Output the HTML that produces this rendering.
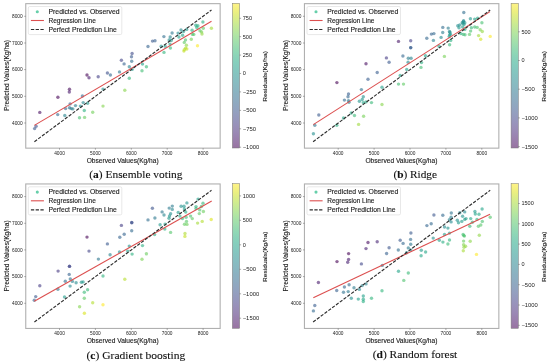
<!DOCTYPE html>
<html><head><meta charset="utf-8"><style>
html,body{margin:0;padding:0;background:#fff;}
svg{display:block;will-change:transform;font-family:"Liberation Sans",sans-serif;}
</style></head><body>
<svg width="550" height="363" viewBox="0 0 550 363">
<rect width="550" height="363" fill="#fff"/>
<defs>
<linearGradient id="ga" x1="0" y1="1" x2="0" y2="0">
<stop offset="0.000" stop-color="#9873a1"/>
<stop offset="0.031" stop-color="#9a7aa8"/>
<stop offset="0.062" stop-color="#9a80ad"/>
<stop offset="0.094" stop-color="#9a86b3"/>
<stop offset="0.125" stop-color="#9a8cb6"/>
<stop offset="0.156" stop-color="#9991ba"/>
<stop offset="0.188" stop-color="#9796bc"/>
<stop offset="0.219" stop-color="#959bbe"/>
<stop offset="0.250" stop-color="#93a0bf"/>
<stop offset="0.281" stop-color="#91a5c0"/>
<stop offset="0.312" stop-color="#8fa9c0"/>
<stop offset="0.344" stop-color="#8daec1"/>
<stop offset="0.375" stop-color="#8bb1c1"/>
<stop offset="0.406" stop-color="#89b6c1"/>
<stop offset="0.438" stop-color="#88bac1"/>
<stop offset="0.469" stop-color="#86bec1"/>
<stop offset="0.500" stop-color="#85c2c0"/>
<stop offset="0.531" stop-color="#84c6bf"/>
<stop offset="0.562" stop-color="#84cbbe"/>
<stop offset="0.594" stop-color="#85cfbc"/>
<stop offset="0.625" stop-color="#89d2b9"/>
<stop offset="0.656" stop-color="#8ed7b6"/>
<stop offset="0.688" stop-color="#95dab2"/>
<stop offset="0.719" stop-color="#9edeae"/>
<stop offset="0.750" stop-color="#a6e1a9"/>
<stop offset="0.781" stop-color="#b0e5a3"/>
<stop offset="0.812" stop-color="#bbe79c"/>
<stop offset="0.844" stop-color="#c6ea95"/>
<stop offset="0.875" stop-color="#d2ec8d"/>
<stop offset="0.906" stop-color="#dded86"/>
<stop offset="0.938" stop-color="#eaef80"/>
<stop offset="0.969" stop-color="#f5f182"/>
<stop offset="1.000" stop-color="#fef287"/>
</linearGradient>
<linearGradient id="gb" x1="0" y1="1" x2="0" y2="0">
<stop offset="0.000" stop-color="#9873a1"/>
<stop offset="0.031" stop-color="#9a7aa8"/>
<stop offset="0.062" stop-color="#9a80ad"/>
<stop offset="0.094" stop-color="#9a86b3"/>
<stop offset="0.125" stop-color="#9a8cb6"/>
<stop offset="0.156" stop-color="#9991ba"/>
<stop offset="0.188" stop-color="#9796bc"/>
<stop offset="0.219" stop-color="#959bbe"/>
<stop offset="0.250" stop-color="#93a0bf"/>
<stop offset="0.281" stop-color="#91a5c0"/>
<stop offset="0.312" stop-color="#8fa9c0"/>
<stop offset="0.344" stop-color="#8daec1"/>
<stop offset="0.375" stop-color="#8bb1c1"/>
<stop offset="0.406" stop-color="#89b6c1"/>
<stop offset="0.438" stop-color="#88bac1"/>
<stop offset="0.469" stop-color="#86bec1"/>
<stop offset="0.500" stop-color="#85c2c0"/>
<stop offset="0.531" stop-color="#84c6bf"/>
<stop offset="0.562" stop-color="#84cbbe"/>
<stop offset="0.594" stop-color="#85cfbc"/>
<stop offset="0.625" stop-color="#89d2b9"/>
<stop offset="0.656" stop-color="#8ed7b6"/>
<stop offset="0.688" stop-color="#95dab2"/>
<stop offset="0.719" stop-color="#9edeae"/>
<stop offset="0.750" stop-color="#a6e1a9"/>
<stop offset="0.781" stop-color="#b0e5a3"/>
<stop offset="0.812" stop-color="#bbe79c"/>
<stop offset="0.844" stop-color="#c6ea95"/>
<stop offset="0.875" stop-color="#d2ec8d"/>
<stop offset="0.906" stop-color="#dded86"/>
<stop offset="0.938" stop-color="#eaef80"/>
<stop offset="0.969" stop-color="#f5f182"/>
<stop offset="1.000" stop-color="#fef287"/>
</linearGradient>
<linearGradient id="gc" x1="0" y1="1" x2="0" y2="0">
<stop offset="0.000" stop-color="#9873a1"/>
<stop offset="0.031" stop-color="#9a7aa8"/>
<stop offset="0.062" stop-color="#9a80ad"/>
<stop offset="0.094" stop-color="#9a86b3"/>
<stop offset="0.125" stop-color="#9a8cb6"/>
<stop offset="0.156" stop-color="#9991ba"/>
<stop offset="0.188" stop-color="#9796bc"/>
<stop offset="0.219" stop-color="#959bbe"/>
<stop offset="0.250" stop-color="#93a0bf"/>
<stop offset="0.281" stop-color="#91a5c0"/>
<stop offset="0.312" stop-color="#8fa9c0"/>
<stop offset="0.344" stop-color="#8daec1"/>
<stop offset="0.375" stop-color="#8bb1c1"/>
<stop offset="0.406" stop-color="#89b6c1"/>
<stop offset="0.438" stop-color="#88bac1"/>
<stop offset="0.469" stop-color="#86bec1"/>
<stop offset="0.500" stop-color="#85c2c0"/>
<stop offset="0.531" stop-color="#84c6bf"/>
<stop offset="0.562" stop-color="#84cbbe"/>
<stop offset="0.594" stop-color="#85cfbc"/>
<stop offset="0.625" stop-color="#89d2b9"/>
<stop offset="0.656" stop-color="#8ed7b6"/>
<stop offset="0.688" stop-color="#95dab2"/>
<stop offset="0.719" stop-color="#9edeae"/>
<stop offset="0.750" stop-color="#a6e1a9"/>
<stop offset="0.781" stop-color="#b0e5a3"/>
<stop offset="0.812" stop-color="#bbe79c"/>
<stop offset="0.844" stop-color="#c6ea95"/>
<stop offset="0.875" stop-color="#d2ec8d"/>
<stop offset="0.906" stop-color="#dded86"/>
<stop offset="0.938" stop-color="#eaef80"/>
<stop offset="0.969" stop-color="#f5f182"/>
<stop offset="1.000" stop-color="#fef287"/>
</linearGradient>
<linearGradient id="gd" x1="0" y1="1" x2="0" y2="0">
<stop offset="0.000" stop-color="#9873a1"/>
<stop offset="0.031" stop-color="#9a7aa8"/>
<stop offset="0.062" stop-color="#9a80ad"/>
<stop offset="0.094" stop-color="#9a86b3"/>
<stop offset="0.125" stop-color="#9a8cb6"/>
<stop offset="0.156" stop-color="#9991ba"/>
<stop offset="0.188" stop-color="#9796bc"/>
<stop offset="0.219" stop-color="#959bbe"/>
<stop offset="0.250" stop-color="#93a0bf"/>
<stop offset="0.281" stop-color="#91a5c0"/>
<stop offset="0.312" stop-color="#8fa9c0"/>
<stop offset="0.344" stop-color="#8daec1"/>
<stop offset="0.375" stop-color="#8bb1c1"/>
<stop offset="0.406" stop-color="#89b6c1"/>
<stop offset="0.438" stop-color="#88bac1"/>
<stop offset="0.469" stop-color="#86bec1"/>
<stop offset="0.500" stop-color="#85c2c0"/>
<stop offset="0.531" stop-color="#84c6bf"/>
<stop offset="0.562" stop-color="#84cbbe"/>
<stop offset="0.594" stop-color="#85cfbc"/>
<stop offset="0.625" stop-color="#89d2b9"/>
<stop offset="0.656" stop-color="#8ed7b6"/>
<stop offset="0.688" stop-color="#95dab2"/>
<stop offset="0.719" stop-color="#9edeae"/>
<stop offset="0.750" stop-color="#a6e1a9"/>
<stop offset="0.781" stop-color="#b0e5a3"/>
<stop offset="0.812" stop-color="#bbe79c"/>
<stop offset="0.844" stop-color="#c6ea95"/>
<stop offset="0.875" stop-color="#d2ec8d"/>
<stop offset="0.906" stop-color="#dded86"/>
<stop offset="0.938" stop-color="#eaef80"/>
<stop offset="0.969" stop-color="#f5f182"/>
<stop offset="1.000" stop-color="#fef287"/>
</linearGradient>
</defs>
<g transform="translate(0,0)">
<circle cx="69.5" cy="89.3" r="1.7" fill="#450659" fill-opacity="0.6"/>
<circle cx="69.3" cy="92.0" r="1.7" fill="#48186a" fill-opacity="0.6"/>
<circle cx="57.9" cy="97.3" r="1.7" fill="#440255" fill-opacity="0.6"/>
<circle cx="39.8" cy="112.4" r="1.7" fill="#470e61" fill-opacity="0.6"/>
<circle cx="57.7" cy="114.6" r="1.7" fill="#31678e" fill-opacity="0.6"/>
<circle cx="64.8" cy="115.5" r="1.7" fill="#25848e" fill-opacity="0.6"/>
<circle cx="70.1" cy="103.9" r="1.7" fill="#35608d" fill-opacity="0.6"/>
<circle cx="65.6" cy="108.6" r="1.7" fill="#31678d" fill-opacity="0.6"/>
<circle cx="69.5" cy="107.8" r="1.7" fill="#2d708e" fill-opacity="0.6"/>
<circle cx="71.2" cy="108.6" r="1.7" fill="#297a8e" fill-opacity="0.6"/>
<circle cx="72.8" cy="108.9" r="1.7" fill="#26818e" fill-opacity="0.6"/>
<circle cx="75.5" cy="105.6" r="1.7" fill="#297b8e" fill-opacity="0.6"/>
<circle cx="34.6" cy="128.6" r="1.7" fill="#39578c" fill-opacity="0.6"/>
<circle cx="36.1" cy="126.2" r="1.7" fill="#3c508b" fill-opacity="0.6"/>
<circle cx="82.4" cy="96.0" r="1.7" fill="#31668d" fill-opacity="0.6"/>
<circle cx="83.2" cy="102.6" r="1.7" fill="#24878e" fill-opacity="0.6"/>
<circle cx="80.4" cy="106.1" r="1.7" fill="#228e8d" fill-opacity="0.6"/>
<circle cx="87.6" cy="103.2" r="1.7" fill="#1f998b" fill-opacity="0.6"/>
<circle cx="84.3" cy="110.5" r="1.7" fill="#29af7f" fill-opacity="0.6"/>
<circle cx="79.5" cy="117.7" r="1.7" fill="#44be70" fill-opacity="0.6"/>
<circle cx="84.6" cy="117.4" r="1.7" fill="#66cc5d" fill-opacity="0.6"/>
<circle cx="92.7" cy="112.2" r="1.7" fill="#6fcf58" fill-opacity="0.6"/>
<circle cx="103.0" cy="106.1" r="1.7" fill="#82d34c" fill-opacity="0.6"/>
<circle cx="103.0" cy="89.1" r="1.7" fill="#228d8d" fill-opacity="0.6"/>
<circle cx="124.8" cy="90.2" r="1.7" fill="#86d44a" fill-opacity="0.6"/>
<circle cx="87.0" cy="75.0" r="1.7" fill="#440154" fill-opacity="0.6"/>
<circle cx="89.0" cy="77.7" r="1.7" fill="#481a6c" fill-opacity="0.6"/>
<circle cx="98.2" cy="76.8" r="1.7" fill="#433e85" fill-opacity="0.6"/>
<circle cx="107.4" cy="73.0" r="1.7" fill="#3c4f8a" fill-opacity="0.6"/>
<circle cx="110.4" cy="75.0" r="1.7" fill="#32658d" fill-opacity="0.6"/>
<circle cx="119.5" cy="71.9" r="1.7" fill="#2b768e" fill-opacity="0.6"/>
<circle cx="121.4" cy="60.3" r="1.7" fill="#414287" fill-opacity="0.6"/>
<circle cx="124.1" cy="63.9" r="1.7" fill="#34618d" fill-opacity="0.6"/>
<circle cx="148.0" cy="46.5" r="1.7" fill="#33628d" fill-opacity="0.6"/>
<circle cx="132.1" cy="53.5" r="1.7" fill="#3e4989" fill-opacity="0.6"/>
<circle cx="131.5" cy="56.8" r="1.7" fill="#38588c" fill-opacity="0.6"/>
<circle cx="131.7" cy="61.2" r="1.7" fill="#2e6e8e" fill-opacity="0.6"/>
<circle cx="129.3" cy="66.7" r="1.7" fill="#27808e" fill-opacity="0.6"/>
<circle cx="132.1" cy="69.4" r="1.7" fill="#20968b" fill-opacity="0.6"/>
<circle cx="142.5" cy="64.1" r="1.7" fill="#20a187" fill-opacity="0.6"/>
<circle cx="146.4" cy="66.7" r="1.7" fill="#39b976" fill-opacity="0.6"/>
<circle cx="142.0" cy="70.8" r="1.7" fill="#40bc73" fill-opacity="0.6"/>
<circle cx="129.3" cy="78.2" r="1.7" fill="#30b47b" fill-opacity="0.6"/>
<circle cx="161.2" cy="46.3" r="1.7" fill="#218f8c" fill-opacity="0.6"/>
<circle cx="165.1" cy="46.3" r="1.7" fill="#1f9c89" fill-opacity="0.6"/>
<circle cx="164.0" cy="52.4" r="1.7" fill="#30b47b" fill-opacity="0.6"/>
<circle cx="170.0" cy="44.1" r="1.7" fill="#20a387" fill-opacity="0.6"/>
<circle cx="170.4" cy="48.0" r="1.7" fill="#32b67a" fill-opacity="0.6"/>
<circle cx="152.5" cy="41.1" r="1.7" fill="#38588c" fill-opacity="0.6"/>
<circle cx="155.0" cy="40.7" r="1.7" fill="#355f8d" fill-opacity="0.6"/>
<circle cx="163.9" cy="36.6" r="1.7" fill="#2f6c8e" fill-opacity="0.6"/>
<circle cx="172.1" cy="33.0" r="1.7" fill="#2a778e" fill-opacity="0.6"/>
<circle cx="170.2" cy="37.0" r="1.7" fill="#25838e" fill-opacity="0.6"/>
<circle cx="169.2" cy="40.0" r="1.7" fill="#228e8d" fill-opacity="0.6"/>
<circle cx="171.3" cy="40.5" r="1.7" fill="#1f978b" fill-opacity="0.6"/>
<circle cx="178.1" cy="33.1" r="1.7" fill="#228c8d" fill-opacity="0.6"/>
<circle cx="178.9" cy="37.0" r="1.7" fill="#1fa188" fill-opacity="0.6"/>
<circle cx="181.0" cy="30.0" r="1.7" fill="#24888e" fill-opacity="0.6"/>
<circle cx="183.5" cy="31.6" r="1.7" fill="#1f988b" fill-opacity="0.6"/>
<circle cx="182.6" cy="35.3" r="1.7" fill="#21a586" fill-opacity="0.6"/>
<circle cx="185.5" cy="39.9" r="1.7" fill="#4dc26c" fill-opacity="0.6"/>
<circle cx="184.3" cy="42.4" r="1.7" fill="#5cc863" fill-opacity="0.6"/>
<circle cx="186.4" cy="45.2" r="1.7" fill="#8fd644" fill-opacity="0.6"/>
<circle cx="185.5" cy="48.1" r="1.7" fill="#abdc31" fill-opacity="0.6"/>
<circle cx="184.3" cy="49.8" r="1.7" fill="#b6dd2b" fill-opacity="0.6"/>
<circle cx="186.8" cy="49.0" r="1.7" fill="#c3df22" fill-opacity="0.6"/>
<circle cx="202.9" cy="22.0" r="1.7" fill="#27ad81" fill-opacity="0.6"/>
<circle cx="195.8" cy="25.3" r="1.7" fill="#21a586" fill-opacity="0.6"/>
<circle cx="197.9" cy="25.7" r="1.7" fill="#27ad81" fill-opacity="0.6"/>
<circle cx="196.7" cy="27.4" r="1.7" fill="#2cb17e" fill-opacity="0.6"/>
<circle cx="203.3" cy="28.3" r="1.7" fill="#5cc863" fill-opacity="0.6"/>
<circle cx="211.4" cy="28.3" r="1.7" fill="#a4da36" fill-opacity="0.6"/>
<circle cx="200.0" cy="30.7" r="1.7" fill="#5cc863" fill-opacity="0.6"/>
<circle cx="201.6" cy="31.9" r="1.7" fill="#77d153" fill-opacity="0.6"/>
<circle cx="202.0" cy="34.0" r="1.7" fill="#94d741" fill-opacity="0.6"/>
<circle cx="192.1" cy="30.2" r="1.7" fill="#28ae80" fill-opacity="0.6"/>
<circle cx="192.5" cy="34.4" r="1.7" fill="#4ac16d" fill-opacity="0.6"/>
<circle cx="193.8" cy="34.4" r="1.7" fill="#53c568" fill-opacity="0.6"/>
<circle cx="186.7" cy="29.4" r="1.7" fill="#1f988b" fill-opacity="0.6"/>
<circle cx="191.3" cy="39.3" r="1.7" fill="#74d055" fill-opacity="0.6"/>
<circle cx="183.9" cy="51.1" r="1.7" fill="#c3df23" fill-opacity="0.6"/>
<circle cx="197.5" cy="45.7" r="1.7" fill="#fbe724" fill-opacity="0.6"/>
<line x1="34.3" y1="125.4" x2="211.5" y2="21.2" stroke="#dc4f4f" stroke-width="1.1"/>
<line x1="34.4" y1="141.7" x2="211.5" y2="10.0" stroke="#2e2e2e" stroke-width="1.15" stroke-dasharray="3.3 1.45"/>
<rect x="25.75" y="3.65" width="194.4" height="144.5" fill="none" stroke="#b0b0b0" stroke-width="1.1"/>
<line x1="59.5" y1="148.2" x2="59.5" y2="149.7" stroke="#555" stroke-width="0.5"/>
<text x="59.5" y="154.7" font-size="4.7" text-anchor="middle" fill="#1a1a1a" textLength="10.7" lengthAdjust="spacingAndGlyphs">4000</text>
<line x1="95.4" y1="148.2" x2="95.4" y2="149.7" stroke="#555" stroke-width="0.5"/>
<text x="95.4" y="154.7" font-size="4.7" text-anchor="middle" fill="#1a1a1a" textLength="10.7" lengthAdjust="spacingAndGlyphs">5000</text>
<line x1="131.3" y1="148.2" x2="131.3" y2="149.7" stroke="#555" stroke-width="0.5"/>
<text x="131.3" y="154.7" font-size="4.7" text-anchor="middle" fill="#1a1a1a" textLength="10.7" lengthAdjust="spacingAndGlyphs">6000</text>
<line x1="167.2" y1="148.2" x2="167.2" y2="149.7" stroke="#555" stroke-width="0.5"/>
<text x="167.2" y="154.7" font-size="4.7" text-anchor="middle" fill="#1a1a1a" textLength="10.7" lengthAdjust="spacingAndGlyphs">7000</text>
<line x1="203.1" y1="148.2" x2="203.1" y2="149.7" stroke="#555" stroke-width="0.5"/>
<text x="203.1" y="154.7" font-size="4.7" text-anchor="middle" fill="#1a1a1a" textLength="10.7" lengthAdjust="spacingAndGlyphs">8000</text>
<line x1="24.25" y1="123.0" x2="25.75" y2="123.0" stroke="#555" stroke-width="0.5"/>
<text x="22.7" y="124.7" font-size="4.7" text-anchor="end" fill="#1a1a1a" textLength="10.7" lengthAdjust="spacingAndGlyphs">4000</text>
<line x1="24.25" y1="96.3" x2="25.75" y2="96.3" stroke="#555" stroke-width="0.5"/>
<text x="22.7" y="98.0" font-size="4.7" text-anchor="end" fill="#1a1a1a" textLength="10.7" lengthAdjust="spacingAndGlyphs">5000</text>
<line x1="24.25" y1="69.6" x2="25.75" y2="69.6" stroke="#555" stroke-width="0.5"/>
<text x="22.7" y="71.3" font-size="4.7" text-anchor="end" fill="#1a1a1a" textLength="10.7" lengthAdjust="spacingAndGlyphs">6000</text>
<line x1="24.25" y1="43.0" x2="25.75" y2="43.0" stroke="#555" stroke-width="0.5"/>
<text x="22.7" y="44.7" font-size="4.7" text-anchor="end" fill="#1a1a1a" textLength="10.7" lengthAdjust="spacingAndGlyphs">7000</text>
<line x1="24.25" y1="16.3" x2="25.75" y2="16.3" stroke="#555" stroke-width="0.5"/>
<text x="22.7" y="18.0" font-size="4.7" text-anchor="end" fill="#1a1a1a" textLength="10.7" lengthAdjust="spacingAndGlyphs">8000</text>
<text x="122.7" y="162.9" font-size="6.6" text-anchor="middle" fill="#1a1a1a" stroke="#1a1a1a" stroke-width="0.12" textLength="72" lengthAdjust="spacingAndGlyphs">Observed Values(Kg/ha)</text>
<text transform="translate(8.9,75.6) rotate(-90)" font-size="6.6" text-anchor="middle" fill="#1a1a1a" stroke="#1a1a1a" stroke-width="0.12" textLength="71" lengthAdjust="spacingAndGlyphs">Predicted Values(Kg/ha)</text>
<rect x="28.3" y="6.5" width="93.5" height="28.1" rx="1.5" fill="#fff" fill-opacity="0.8" stroke="#d8d8d8" stroke-width="0.6"/>
<circle cx="37.3" cy="11.8" r="1.55" fill="#66cfaa"/>
<line x1="30.9" y1="20.5" x2="43.9" y2="20.5" stroke="#dc4f4f" stroke-width="1.1"/>
<line x1="30.9" y1="29.5" x2="43.9" y2="29.5" stroke="#2e2e2e" stroke-width="1.15" stroke-dasharray="3.3 1.45"/>
<text x="48.5" y="13.7" font-size="6.5" fill="#1a1a1a" stroke="#1a1a1a" stroke-width="0.12" textLength="71" lengthAdjust="spacingAndGlyphs">Predicted vs. Observed</text>
<text x="48.5" y="22.7" font-size="6.5" fill="#1a1a1a" stroke="#1a1a1a" stroke-width="0.12" textLength="47.3" lengthAdjust="spacingAndGlyphs">Regression Line</text>
<text x="48.5" y="31.7" font-size="6.5" fill="#1a1a1a" stroke="#1a1a1a" stroke-width="0.12" textLength="68.3" lengthAdjust="spacingAndGlyphs">Perfect Prediction Line</text>
<rect x="232.4" y="3.3" width="7.2" height="144.7" fill="url(#ga)" stroke="#777" stroke-width="0.5"/>
<line x1="239.6" y1="18.3" x2="241.1" y2="18.3" stroke="#555" stroke-width="0.5"/>
<text x="242.7" y="20.2" font-size="5.3" fill="#1a1a1a" textLength="9.3" lengthAdjust="spacingAndGlyphs">750</text>
<line x1="239.6" y1="36.7" x2="241.1" y2="36.7" stroke="#555" stroke-width="0.5"/>
<text x="242.7" y="38.6" font-size="5.3" fill="#1a1a1a" textLength="9.3" lengthAdjust="spacingAndGlyphs">500</text>
<line x1="239.6" y1="55.1" x2="241.1" y2="55.1" stroke="#555" stroke-width="0.5"/>
<text x="242.7" y="57.0" font-size="5.3" fill="#1a1a1a" textLength="9.3" lengthAdjust="spacingAndGlyphs">250</text>
<line x1="239.6" y1="73.5" x2="241.1" y2="73.5" stroke="#555" stroke-width="0.5"/>
<text x="242.7" y="75.4" font-size="5.3" fill="#1a1a1a" textLength="3.1" lengthAdjust="spacingAndGlyphs">0</text>
<line x1="239.6" y1="91.9" x2="241.1" y2="91.9" stroke="#555" stroke-width="0.5"/>
<text x="242.7" y="93.8" font-size="5.3" fill="#1a1a1a" textLength="13.4" lengthAdjust="spacingAndGlyphs">−250</text>
<line x1="239.6" y1="110.4" x2="241.1" y2="110.4" stroke="#555" stroke-width="0.5"/>
<text x="242.7" y="112.3" font-size="5.3" fill="#1a1a1a" textLength="13.4" lengthAdjust="spacingAndGlyphs">−500</text>
<line x1="239.6" y1="128.8" x2="241.1" y2="128.8" stroke="#555" stroke-width="0.5"/>
<text x="242.7" y="130.7" font-size="5.3" fill="#1a1a1a" textLength="13.4" lengthAdjust="spacingAndGlyphs">−750</text>
<line x1="239.6" y1="147.2" x2="241.1" y2="147.2" stroke="#555" stroke-width="0.5"/>
<text x="242.7" y="149.1" font-size="5.3" fill="#1a1a1a" textLength="16.5" lengthAdjust="spacingAndGlyphs">−1000</text>
<text transform="translate(267.3,76.4) rotate(-90)" font-size="6.1" text-anchor="middle" fill="#1a1a1a" stroke="#1a1a1a" stroke-width="0.12" textLength="50.5" lengthAdjust="spacingAndGlyphs">Residuals(Kg/ha)</text>
</g><g transform="translate(278.7,0)">
<circle cx="58.2" cy="82.6" r="1.7" fill="#440154" fill-opacity="0.6"/>
<circle cx="40.1" cy="115.0" r="1.7" fill="#38588c" fill-opacity="0.6"/>
<circle cx="69.8" cy="94.0" r="1.7" fill="#365d8d" fill-opacity="0.6"/>
<circle cx="69.3" cy="96.8" r="1.7" fill="#32668d" fill-opacity="0.6"/>
<circle cx="65.7" cy="100.1" r="1.7" fill="#30688e" fill-opacity="0.6"/>
<circle cx="69.8" cy="100.6" r="1.7" fill="#2b758e" fill-opacity="0.6"/>
<circle cx="70.3" cy="102.3" r="1.7" fill="#287d8e" fill-opacity="0.6"/>
<circle cx="64.8" cy="118.0" r="1.7" fill="#22a685" fill-opacity="0.6"/>
<circle cx="72.6" cy="113.0" r="1.7" fill="#23a984" fill-opacity="0.6"/>
<circle cx="75.8" cy="115.5" r="1.7" fill="#39b976" fill-opacity="0.6"/>
<circle cx="36.1" cy="125.3" r="1.7" fill="#2c738e" fill-opacity="0.6"/>
<circle cx="34.7" cy="133.7" r="1.7" fill="#228e8d" fill-opacity="0.6"/>
<circle cx="58.1" cy="125.3" r="1.7" fill="#28ae80" fill-opacity="0.6"/>
<circle cx="82.7" cy="89.6" r="1.7" fill="#2d708e" fill-opacity="0.6"/>
<circle cx="84.6" cy="96.8" r="1.7" fill="#218f8c" fill-opacity="0.6"/>
<circle cx="80.7" cy="101.2" r="1.7" fill="#20948c" fill-opacity="0.6"/>
<circle cx="83.5" cy="99.5" r="1.7" fill="#20968b" fill-opacity="0.6"/>
<circle cx="84.6" cy="102.6" r="1.7" fill="#21a486" fill-opacity="0.6"/>
<circle cx="87.3" cy="101.9" r="1.7" fill="#23a884" fill-opacity="0.6"/>
<circle cx="92.8" cy="102.6" r="1.7" fill="#37b877" fill-opacity="0.6"/>
<circle cx="103.3" cy="104.5" r="1.7" fill="#85d44b" fill-opacity="0.6"/>
<circle cx="103.3" cy="87.2" r="1.7" fill="#1f9e89" fill-opacity="0.6"/>
<circle cx="119.8" cy="84.1" r="1.7" fill="#41bd72" fill-opacity="0.6"/>
<circle cx="124.8" cy="84.1" r="1.7" fill="#5dc963" fill-opacity="0.6"/>
<circle cx="84.9" cy="116.3" r="1.7" fill="#73d055" fill-opacity="0.6"/>
<circle cx="79.9" cy="124.4" r="1.7" fill="#9dd93b" fill-opacity="0.6"/>
<circle cx="87.3" cy="63.7" r="1.7" fill="#470d60" fill-opacity="0.6"/>
<circle cx="107.7" cy="57.9" r="1.7" fill="#443b83" fill-opacity="0.6"/>
<circle cx="110.4" cy="62.3" r="1.7" fill="#39568c" fill-opacity="0.6"/>
<circle cx="98.5" cy="72.5" r="1.7" fill="#375c8d" fill-opacity="0.6"/>
<circle cx="89.3" cy="79.3" r="1.7" fill="#375c8d" fill-opacity="0.6"/>
<circle cx="124.2" cy="56.0" r="1.7" fill="#32668d" fill-opacity="0.6"/>
<circle cx="121.5" cy="75.5" r="1.7" fill="#21a586" fill-opacity="0.6"/>
<circle cx="132.0" cy="47.6" r="1.7" fill="#375c8d" fill-opacity="0.6"/>
<circle cx="129.6" cy="58.2" r="1.7" fill="#287c8e" fill-opacity="0.6"/>
<circle cx="132.4" cy="58.2" r="1.7" fill="#25848e" fill-opacity="0.6"/>
<circle cx="129.4" cy="62.3" r="1.7" fill="#238a8e" fill-opacity="0.6"/>
<circle cx="128.0" cy="69.4" r="1.7" fill="#1fa088" fill-opacity="0.6"/>
<circle cx="142.8" cy="62.6" r="1.7" fill="#29ae80" fill-opacity="0.6"/>
<circle cx="142.3" cy="67.4" r="1.7" fill="#42bd72" fill-opacity="0.6"/>
<circle cx="146.7" cy="55.7" r="1.7" fill="#1fa188" fill-opacity="0.6"/>
<circle cx="160.4" cy="46.3" r="1.7" fill="#21a486" fill-opacity="0.6"/>
<circle cx="165.7" cy="56.4" r="1.7" fill="#74d054" fill-opacity="0.6"/>
<circle cx="170.9" cy="44.7" r="1.7" fill="#38b977" fill-opacity="0.6"/>
<circle cx="132.0" cy="40.7" r="1.7" fill="#433e85" fill-opacity="0.6"/>
<circle cx="148.1" cy="38.2" r="1.7" fill="#32668d" fill-opacity="0.6"/>
<circle cx="152.7" cy="34.1" r="1.7" fill="#33638d" fill-opacity="0.6"/>
<circle cx="155.2" cy="33.6" r="1.7" fill="#30688e" fill-opacity="0.6"/>
<circle cx="154.7" cy="40.4" r="1.7" fill="#27808e" fill-opacity="0.6"/>
<circle cx="164.1" cy="27.4" r="1.7" fill="#306a8e" fill-opacity="0.6"/>
<circle cx="164.0" cy="32.5" r="1.7" fill="#287c8e" fill-opacity="0.6"/>
<circle cx="162.4" cy="37.4" r="1.7" fill="#23898e" fill-opacity="0.6"/>
<circle cx="169.5" cy="28.1" r="1.7" fill="#297b8e" fill-opacity="0.6"/>
<circle cx="171.2" cy="32.2" r="1.7" fill="#228e8d" fill-opacity="0.6"/>
<circle cx="170.9" cy="35.0" r="1.7" fill="#1f978b" fill-opacity="0.6"/>
<circle cx="172.0" cy="40.4" r="1.7" fill="#27ad81" fill-opacity="0.6"/>
<circle cx="185.1" cy="12.5" r="1.7" fill="#2e6c8e" fill-opacity="0.6"/>
<circle cx="184.9" cy="20.8" r="1.7" fill="#23898e" fill-opacity="0.6"/>
<circle cx="183.6" cy="22.4" r="1.7" fill="#228c8d" fill-opacity="0.6"/>
<circle cx="186.1" cy="22.8" r="1.7" fill="#20948c" fill-opacity="0.6"/>
<circle cx="185.3" cy="24.5" r="1.7" fill="#1f988b" fill-opacity="0.6"/>
<circle cx="184.0" cy="27.0" r="1.7" fill="#1f9e89" fill-opacity="0.6"/>
<circle cx="179.1" cy="25.7" r="1.7" fill="#228c8d" fill-opacity="0.6"/>
<circle cx="181.1" cy="24.9" r="1.7" fill="#228e8d" fill-opacity="0.6"/>
<circle cx="180.3" cy="27.8" r="1.7" fill="#1f968b" fill-opacity="0.6"/>
<circle cx="191.7" cy="18.7" r="1.7" fill="#20948c" fill-opacity="0.6"/>
<circle cx="196.0" cy="19.1" r="1.7" fill="#20a187" fill-opacity="0.6"/>
<circle cx="198.9" cy="18.3" r="1.7" fill="#21a686" fill-opacity="0.6"/>
<circle cx="186.1" cy="29.4" r="1.7" fill="#25ab82" fill-opacity="0.6"/>
<circle cx="192.7" cy="27.8" r="1.7" fill="#34b779" fill-opacity="0.6"/>
<circle cx="196.0" cy="27.0" r="1.7" fill="#3ebc73" fill-opacity="0.6"/>
<circle cx="198.5" cy="27.4" r="1.7" fill="#4ec36b" fill-opacity="0.6"/>
<circle cx="191.9" cy="31.1" r="1.7" fill="#46bf70" fill-opacity="0.6"/>
<circle cx="203.2" cy="22.8" r="1.7" fill="#46bf6f" fill-opacity="0.6"/>
<circle cx="201.5" cy="29.8" r="1.7" fill="#74d054" fill-opacity="0.6"/>
<circle cx="203.6" cy="31.5" r="1.7" fill="#93d741" fill-opacity="0.6"/>
<circle cx="190.8" cy="34.4" r="1.7" fill="#58c765" fill-opacity="0.6"/>
<circle cx="184.6" cy="34.4" r="1.7" fill="#38b977" fill-opacity="0.6"/>
<circle cx="186.3" cy="34.8" r="1.7" fill="#42be71" fill-opacity="0.6"/>
<circle cx="182.1" cy="33.6" r="1.7" fill="#2aaf7f" fill-opacity="0.6"/>
<circle cx="199.9" cy="35.6" r="1.7" fill="#a1da38" fill-opacity="0.6"/>
<circle cx="211.5" cy="36.4" r="1.7" fill="#fbe724" fill-opacity="0.6"/>
<circle cx="202.0" cy="39.3" r="1.7" fill="#d6e21a" fill-opacity="0.6"/>
<circle cx="119.8" cy="41.4" r="1.7" fill="#481668" fill-opacity="0.6"/>
<circle cx="170.8" cy="31.5" r="1.7" fill="#238a8e" fill-opacity="0.6"/>
<circle cx="171.8" cy="34.2" r="1.7" fill="#1f978b" fill-opacity="0.6"/>
<circle cx="170.5" cy="36.6" r="1.7" fill="#1f9c8a" fill-opacity="0.6"/>
<circle cx="184.8" cy="21.5" r="1.7" fill="#228c8d" fill-opacity="0.6"/>
<circle cx="184.1" cy="23.4" r="1.7" fill="#21918c" fill-opacity="0.6"/>
<circle cx="132.0" cy="47.8" r="1.7" fill="#365d8d" fill-opacity="0.6"/>
<line x1="34.6" y1="124.6" x2="211.3" y2="11.6" stroke="#dc4f4f" stroke-width="1.1"/>
<line x1="34.4" y1="141.7" x2="211.5" y2="10.0" stroke="#2e2e2e" stroke-width="1.15" stroke-dasharray="3.3 1.45"/>
<rect x="25.75" y="3.65" width="194.4" height="144.5" fill="none" stroke="#b0b0b0" stroke-width="1.1"/>
<line x1="59.5" y1="148.2" x2="59.5" y2="149.7" stroke="#555" stroke-width="0.5"/>
<text x="59.5" y="154.7" font-size="4.7" text-anchor="middle" fill="#1a1a1a" textLength="10.7" lengthAdjust="spacingAndGlyphs">4000</text>
<line x1="95.4" y1="148.2" x2="95.4" y2="149.7" stroke="#555" stroke-width="0.5"/>
<text x="95.4" y="154.7" font-size="4.7" text-anchor="middle" fill="#1a1a1a" textLength="10.7" lengthAdjust="spacingAndGlyphs">5000</text>
<line x1="131.3" y1="148.2" x2="131.3" y2="149.7" stroke="#555" stroke-width="0.5"/>
<text x="131.3" y="154.7" font-size="4.7" text-anchor="middle" fill="#1a1a1a" textLength="10.7" lengthAdjust="spacingAndGlyphs">6000</text>
<line x1="167.2" y1="148.2" x2="167.2" y2="149.7" stroke="#555" stroke-width="0.5"/>
<text x="167.2" y="154.7" font-size="4.7" text-anchor="middle" fill="#1a1a1a" textLength="10.7" lengthAdjust="spacingAndGlyphs">7000</text>
<line x1="203.1" y1="148.2" x2="203.1" y2="149.7" stroke="#555" stroke-width="0.5"/>
<text x="203.1" y="154.7" font-size="4.7" text-anchor="middle" fill="#1a1a1a" textLength="10.7" lengthAdjust="spacingAndGlyphs">8000</text>
<line x1="24.25" y1="123.0" x2="25.75" y2="123.0" stroke="#555" stroke-width="0.5"/>
<text x="22.7" y="124.7" font-size="4.7" text-anchor="end" fill="#1a1a1a" textLength="10.7" lengthAdjust="spacingAndGlyphs">4000</text>
<line x1="24.25" y1="96.3" x2="25.75" y2="96.3" stroke="#555" stroke-width="0.5"/>
<text x="22.7" y="98.0" font-size="4.7" text-anchor="end" fill="#1a1a1a" textLength="10.7" lengthAdjust="spacingAndGlyphs">5000</text>
<line x1="24.25" y1="69.6" x2="25.75" y2="69.6" stroke="#555" stroke-width="0.5"/>
<text x="22.7" y="71.3" font-size="4.7" text-anchor="end" fill="#1a1a1a" textLength="10.7" lengthAdjust="spacingAndGlyphs">6000</text>
<line x1="24.25" y1="43.0" x2="25.75" y2="43.0" stroke="#555" stroke-width="0.5"/>
<text x="22.7" y="44.7" font-size="4.7" text-anchor="end" fill="#1a1a1a" textLength="10.7" lengthAdjust="spacingAndGlyphs">7000</text>
<line x1="24.25" y1="16.3" x2="25.75" y2="16.3" stroke="#555" stroke-width="0.5"/>
<text x="22.7" y="18.0" font-size="4.7" text-anchor="end" fill="#1a1a1a" textLength="10.7" lengthAdjust="spacingAndGlyphs">8000</text>
<text x="122.7" y="162.9" font-size="6.6" text-anchor="middle" fill="#1a1a1a" stroke="#1a1a1a" stroke-width="0.12" textLength="72" lengthAdjust="spacingAndGlyphs">Observed Values(Kg/ha)</text>
<text transform="translate(8.9,75.6) rotate(-90)" font-size="6.6" text-anchor="middle" fill="#1a1a1a" stroke="#1a1a1a" stroke-width="0.12" textLength="71" lengthAdjust="spacingAndGlyphs">Predicted Values(Kg/ha)</text>
<rect x="28.3" y="6.5" width="93.5" height="28.1" rx="1.5" fill="#fff" fill-opacity="0.8" stroke="#d8d8d8" stroke-width="0.6"/>
<circle cx="37.3" cy="11.8" r="1.55" fill="#66cfaa"/>
<line x1="30.9" y1="20.5" x2="43.9" y2="20.5" stroke="#dc4f4f" stroke-width="1.1"/>
<line x1="30.9" y1="29.5" x2="43.9" y2="29.5" stroke="#2e2e2e" stroke-width="1.15" stroke-dasharray="3.3 1.45"/>
<text x="48.5" y="13.7" font-size="6.5" fill="#1a1a1a" stroke="#1a1a1a" stroke-width="0.12" textLength="71" lengthAdjust="spacingAndGlyphs">Predicted vs. Observed</text>
<text x="48.5" y="22.7" font-size="6.5" fill="#1a1a1a" stroke="#1a1a1a" stroke-width="0.12" textLength="47.3" lengthAdjust="spacingAndGlyphs">Regression Line</text>
<text x="48.5" y="31.7" font-size="6.5" fill="#1a1a1a" stroke="#1a1a1a" stroke-width="0.12" textLength="68.3" lengthAdjust="spacingAndGlyphs">Perfect Prediction Line</text>
<rect x="232.4" y="3.3" width="7.2" height="144.7" fill="url(#gb)" stroke="#777" stroke-width="0.5"/>
<line x1="239.6" y1="31.8" x2="241.1" y2="31.8" stroke="#555" stroke-width="0.5"/>
<text x="242.7" y="33.7" font-size="5.3" fill="#1a1a1a" textLength="9.3" lengthAdjust="spacingAndGlyphs">500</text>
<line x1="239.6" y1="60.5" x2="241.1" y2="60.5" stroke="#555" stroke-width="0.5"/>
<text x="242.7" y="62.4" font-size="5.3" fill="#1a1a1a" textLength="3.1" lengthAdjust="spacingAndGlyphs">0</text>
<line x1="239.6" y1="89.2" x2="241.1" y2="89.2" stroke="#555" stroke-width="0.5"/>
<text x="242.7" y="91.1" font-size="5.3" fill="#1a1a1a" textLength="13.4" lengthAdjust="spacingAndGlyphs">−500</text>
<line x1="239.6" y1="117.9" x2="241.1" y2="117.9" stroke="#555" stroke-width="0.5"/>
<text x="242.7" y="119.8" font-size="5.3" fill="#1a1a1a" textLength="16.5" lengthAdjust="spacingAndGlyphs">−1000</text>
<line x1="239.6" y1="146.6" x2="241.1" y2="146.6" stroke="#555" stroke-width="0.5"/>
<text x="242.7" y="148.5" font-size="5.3" fill="#1a1a1a" textLength="16.5" lengthAdjust="spacingAndGlyphs">−1500</text>
<text transform="translate(267.3,76.4) rotate(-90)" font-size="6.1" text-anchor="middle" fill="#1a1a1a" stroke="#1a1a1a" stroke-width="0.12" textLength="50.5" lengthAdjust="spacingAndGlyphs">Residuals(Kg/ha)</text>
</g><g transform="translate(0,180.3)">
<circle cx="69.5" cy="85.9" r="1.7" fill="#404487" fill-opacity="0.6"/>
<circle cx="69.5" cy="86.1" r="1.7" fill="#404588" fill-opacity="0.6"/>
<circle cx="58.1" cy="90.8" r="1.7" fill="#453781" fill-opacity="0.6"/>
<circle cx="69.2" cy="94.1" r="1.7" fill="#34608d" fill-opacity="0.6"/>
<circle cx="70.3" cy="98.7" r="1.7" fill="#2c718e" fill-opacity="0.6"/>
<circle cx="65.3" cy="101.0" r="1.7" fill="#2e6d8e" fill-opacity="0.6"/>
<circle cx="72.4" cy="101.1" r="1.7" fill="#287e8e" fill-opacity="0.6"/>
<circle cx="76.1" cy="102.4" r="1.7" fill="#238a8e" fill-opacity="0.6"/>
<circle cx="81.4" cy="102.0" r="1.7" fill="#20958b" fill-opacity="0.6"/>
<circle cx="83.1" cy="101.6" r="1.7" fill="#1f978b" fill-opacity="0.6"/>
<circle cx="70.1" cy="105.8" r="1.7" fill="#24878e" fill-opacity="0.6"/>
<circle cx="39.8" cy="105.5" r="1.7" fill="#443b83" fill-opacity="0.6"/>
<circle cx="57.9" cy="108.9" r="1.7" fill="#2b748e" fill-opacity="0.6"/>
<circle cx="35.7" cy="116.3" r="1.7" fill="#39578c" fill-opacity="0.6"/>
<circle cx="34.3" cy="119.9" r="1.7" fill="#35608d" fill-opacity="0.6"/>
<circle cx="64.5" cy="116.6" r="1.7" fill="#1f9b8a" fill-opacity="0.6"/>
<circle cx="103.0" cy="95.7" r="1.7" fill="#2db27d" fill-opacity="0.6"/>
<circle cx="87.6" cy="109.4" r="1.7" fill="#37b877" fill-opacity="0.6"/>
<circle cx="84.3" cy="111.9" r="1.7" fill="#38b977" fill-opacity="0.6"/>
<circle cx="84.3" cy="117.9" r="1.7" fill="#5cc863" fill-opacity="0.6"/>
<circle cx="124.8" cy="99.0" r="1.7" fill="#b6dd2b" fill-opacity="0.6"/>
<circle cx="92.7" cy="122.4" r="1.7" fill="#b2dd2d" fill-opacity="0.6"/>
<circle cx="103.0" cy="124.5" r="1.7" fill="#fde725" fill-opacity="0.6"/>
<circle cx="79.6" cy="126.4" r="1.7" fill="#82d44c" fill-opacity="0.6"/>
<circle cx="84.4" cy="133.0" r="1.7" fill="#d8e219" fill-opacity="0.6"/>
<circle cx="121.4" cy="45.1" r="1.7" fill="#433c84" fill-opacity="0.6"/>
<circle cx="87.0" cy="56.8" r="1.7" fill="#440154" fill-opacity="0.6"/>
<circle cx="124.2" cy="53.9" r="1.7" fill="#33628d" fill-opacity="0.6"/>
<circle cx="119.8" cy="57.0" r="1.7" fill="#34628d" fill-opacity="0.6"/>
<circle cx="107.4" cy="63.6" r="1.7" fill="#38598d" fill-opacity="0.6"/>
<circle cx="89.0" cy="70.8" r="1.7" fill="#414287" fill-opacity="0.6"/>
<circle cx="110.1" cy="74.4" r="1.7" fill="#26828e" fill-opacity="0.6"/>
<circle cx="119.5" cy="71.6" r="1.7" fill="#228f8d" fill-opacity="0.6"/>
<circle cx="98.4" cy="78.8" r="1.7" fill="#2b748e" fill-opacity="0.6"/>
<circle cx="131.7" cy="50.4" r="1.7" fill="#30698e" fill-opacity="0.6"/>
<circle cx="129.3" cy="65.8" r="1.7" fill="#20938c" fill-opacity="0.6"/>
<circle cx="127.7" cy="70.8" r="1.7" fill="#1f9f88" fill-opacity="0.6"/>
<circle cx="132.1" cy="73.8" r="1.7" fill="#2cb17e" fill-opacity="0.6"/>
<circle cx="142.5" cy="65.3" r="1.7" fill="#29af80" fill-opacity="0.6"/>
<circle cx="146.4" cy="73.5" r="1.7" fill="#68cc5c" fill-opacity="0.6"/>
<circle cx="142.0" cy="79.0" r="1.7" fill="#7ad151" fill-opacity="0.6"/>
<circle cx="154.6" cy="54.3" r="1.7" fill="#24a984" fill-opacity="0.6"/>
<circle cx="160.1" cy="44.4" r="1.7" fill="#1f978b" fill-opacity="0.6"/>
<circle cx="165.1" cy="43.8" r="1.7" fill="#20a187" fill-opacity="0.6"/>
<circle cx="164.8" cy="48.8" r="1.7" fill="#29af7f" fill-opacity="0.6"/>
<circle cx="170.6" cy="52.1" r="1.7" fill="#51c469" fill-opacity="0.6"/>
<circle cx="131.7" cy="42.2" r="1.7" fill="#3d4d8a" fill-opacity="0.6"/>
<circle cx="131.8" cy="42.4" r="1.7" fill="#3c4e8a" fill-opacity="0.6"/>
<circle cx="152.4" cy="28.0" r="1.7" fill="#3b518b" fill-opacity="0.6"/>
<circle cx="148.0" cy="39.6" r="1.7" fill="#2e6d8e" fill-opacity="0.6"/>
<circle cx="154.9" cy="37.7" r="1.7" fill="#2a778e" fill-opacity="0.6"/>
<circle cx="162.1" cy="31.6" r="1.7" fill="#2b758e" fill-opacity="0.6"/>
<circle cx="164.0" cy="34.7" r="1.7" fill="#26838e" fill-opacity="0.6"/>
<circle cx="169.2" cy="27.8" r="1.7" fill="#29798e" fill-opacity="0.6"/>
<circle cx="172.3" cy="25.8" r="1.7" fill="#297a8e" fill-opacity="0.6"/>
<circle cx="172.3" cy="29.1" r="1.7" fill="#25858e" fill-opacity="0.6"/>
<circle cx="170.6" cy="33.5" r="1.7" fill="#228e8d" fill-opacity="0.6"/>
<circle cx="169.5" cy="35.7" r="1.7" fill="#21928c" fill-opacity="0.6"/>
<circle cx="169.0" cy="37.9" r="1.7" fill="#1f988b" fill-opacity="0.6"/>
<circle cx="186.9" cy="22.6" r="1.7" fill="#21928c" fill-opacity="0.6"/>
<circle cx="181.1" cy="25.9" r="1.7" fill="#228f8d" fill-opacity="0.6"/>
<circle cx="184.0" cy="25.9" r="1.7" fill="#20958b" fill-opacity="0.6"/>
<circle cx="184.4" cy="28.7" r="1.7" fill="#1f9f88" fill-opacity="0.6"/>
<circle cx="178.2" cy="32.1" r="1.7" fill="#1f9b8a" fill-opacity="0.6"/>
<circle cx="185.7" cy="31.7" r="1.7" fill="#25aa83" fill-opacity="0.6"/>
<circle cx="179.9" cy="35.8" r="1.7" fill="#24aa83" fill-opacity="0.6"/>
<circle cx="182.4" cy="38.3" r="1.7" fill="#34b779" fill-opacity="0.6"/>
<circle cx="186.1" cy="37.0" r="1.7" fill="#3cba75" fill-opacity="0.6"/>
<circle cx="190.6" cy="35.8" r="1.7" fill="#48c06e" fill-opacity="0.6"/>
<circle cx="192.3" cy="38.3" r="1.7" fill="#60ca60" fill-opacity="0.6"/>
<circle cx="198.1" cy="18.8" r="1.7" fill="#1fa088" fill-opacity="0.6"/>
<circle cx="196.0" cy="26.3" r="1.7" fill="#2cb17e" fill-opacity="0.6"/>
<circle cx="196.0" cy="28.3" r="1.7" fill="#35b779" fill-opacity="0.6"/>
<circle cx="199.7" cy="29.6" r="1.7" fill="#4cc26c" fill-opacity="0.6"/>
<circle cx="203.0" cy="23.0" r="1.7" fill="#34b779" fill-opacity="0.6"/>
<circle cx="199.3" cy="33.3" r="1.7" fill="#62ca60" fill-opacity="0.6"/>
<circle cx="203.4" cy="31.2" r="1.7" fill="#69cd5b" fill-opacity="0.6"/>
<circle cx="186.5" cy="41.1" r="1.7" fill="#56c666" fill-opacity="0.6"/>
<circle cx="197.6" cy="42.8" r="1.7" fill="#a4da36" fill-opacity="0.6"/>
<circle cx="202.2" cy="41.1" r="1.7" fill="#b2dd2d" fill-opacity="0.6"/>
<circle cx="184.5" cy="44.0" r="1.7" fill="#60ca61" fill-opacity="0.6"/>
<circle cx="187.0" cy="44.1" r="1.7" fill="#6ece58" fill-opacity="0.6"/>
<circle cx="211.2" cy="39.2" r="1.7" fill="#dce319" fill-opacity="0.6"/>
<circle cx="185.0" cy="53.2" r="1.7" fill="#addc30" fill-opacity="0.6"/>
<circle cx="184.9" cy="56.1" r="1.7" fill="#c5df22" fill-opacity="0.6"/>
<circle cx="201.4" cy="26.2" r="1.7" fill="#3fbc73" fill-opacity="0.6"/>
<line x1="34.3" y1="121.0" x2="211.7" y2="20.8" stroke="#dc4f4f" stroke-width="1.1"/>
<line x1="34.4" y1="141.7" x2="211.5" y2="10.0" stroke="#2e2e2e" stroke-width="1.15" stroke-dasharray="3.3 1.45"/>
<rect x="25.75" y="3.65" width="194.4" height="144.5" fill="none" stroke="#b0b0b0" stroke-width="1.1"/>
<line x1="59.5" y1="148.2" x2="59.5" y2="149.7" stroke="#555" stroke-width="0.5"/>
<text x="59.5" y="154.7" font-size="4.7" text-anchor="middle" fill="#1a1a1a" textLength="10.7" lengthAdjust="spacingAndGlyphs">4000</text>
<line x1="95.4" y1="148.2" x2="95.4" y2="149.7" stroke="#555" stroke-width="0.5"/>
<text x="95.4" y="154.7" font-size="4.7" text-anchor="middle" fill="#1a1a1a" textLength="10.7" lengthAdjust="spacingAndGlyphs">5000</text>
<line x1="131.3" y1="148.2" x2="131.3" y2="149.7" stroke="#555" stroke-width="0.5"/>
<text x="131.3" y="154.7" font-size="4.7" text-anchor="middle" fill="#1a1a1a" textLength="10.7" lengthAdjust="spacingAndGlyphs">6000</text>
<line x1="167.2" y1="148.2" x2="167.2" y2="149.7" stroke="#555" stroke-width="0.5"/>
<text x="167.2" y="154.7" font-size="4.7" text-anchor="middle" fill="#1a1a1a" textLength="10.7" lengthAdjust="spacingAndGlyphs">7000</text>
<line x1="203.1" y1="148.2" x2="203.1" y2="149.7" stroke="#555" stroke-width="0.5"/>
<text x="203.1" y="154.7" font-size="4.7" text-anchor="middle" fill="#1a1a1a" textLength="10.7" lengthAdjust="spacingAndGlyphs">8000</text>
<line x1="24.25" y1="123.0" x2="25.75" y2="123.0" stroke="#555" stroke-width="0.5"/>
<text x="22.7" y="124.7" font-size="4.7" text-anchor="end" fill="#1a1a1a" textLength="10.7" lengthAdjust="spacingAndGlyphs">4000</text>
<line x1="24.25" y1="96.3" x2="25.75" y2="96.3" stroke="#555" stroke-width="0.5"/>
<text x="22.7" y="98.0" font-size="4.7" text-anchor="end" fill="#1a1a1a" textLength="10.7" lengthAdjust="spacingAndGlyphs">5000</text>
<line x1="24.25" y1="69.6" x2="25.75" y2="69.6" stroke="#555" stroke-width="0.5"/>
<text x="22.7" y="71.3" font-size="4.7" text-anchor="end" fill="#1a1a1a" textLength="10.7" lengthAdjust="spacingAndGlyphs">6000</text>
<line x1="24.25" y1="43.0" x2="25.75" y2="43.0" stroke="#555" stroke-width="0.5"/>
<text x="22.7" y="44.7" font-size="4.7" text-anchor="end" fill="#1a1a1a" textLength="10.7" lengthAdjust="spacingAndGlyphs">7000</text>
<line x1="24.25" y1="16.3" x2="25.75" y2="16.3" stroke="#555" stroke-width="0.5"/>
<text x="22.7" y="18.0" font-size="4.7" text-anchor="end" fill="#1a1a1a" textLength="10.7" lengthAdjust="spacingAndGlyphs">8000</text>
<text x="122.7" y="162.9" font-size="6.6" text-anchor="middle" fill="#1a1a1a" stroke="#1a1a1a" stroke-width="0.12" textLength="72" lengthAdjust="spacingAndGlyphs">Observed Values(Kg/ha)</text>
<text transform="translate(8.9,75.6) rotate(-90)" font-size="6.6" text-anchor="middle" fill="#1a1a1a" stroke="#1a1a1a" stroke-width="0.12" textLength="71" lengthAdjust="spacingAndGlyphs">Predicted Values(Kg/ha)</text>
<rect x="28.3" y="6.5" width="93.5" height="28.1" rx="1.5" fill="#fff" fill-opacity="0.8" stroke="#d8d8d8" stroke-width="0.6"/>
<circle cx="37.3" cy="11.8" r="1.55" fill="#66cfaa"/>
<line x1="30.9" y1="20.5" x2="43.9" y2="20.5" stroke="#dc4f4f" stroke-width="1.1"/>
<line x1="30.9" y1="29.5" x2="43.9" y2="29.5" stroke="#2e2e2e" stroke-width="1.15" stroke-dasharray="3.3 1.45"/>
<text x="48.5" y="13.7" font-size="6.5" fill="#1a1a1a" stroke="#1a1a1a" stroke-width="0.12" textLength="71" lengthAdjust="spacingAndGlyphs">Predicted vs. Observed</text>
<text x="48.5" y="22.7" font-size="6.5" fill="#1a1a1a" stroke="#1a1a1a" stroke-width="0.12" textLength="47.3" lengthAdjust="spacingAndGlyphs">Regression Line</text>
<text x="48.5" y="31.7" font-size="6.5" fill="#1a1a1a" stroke="#1a1a1a" stroke-width="0.12" textLength="68.3" lengthAdjust="spacingAndGlyphs">Perfect Prediction Line</text>
<rect x="232.4" y="3.3" width="7.2" height="144.7" fill="url(#gc)" stroke="#777" stroke-width="0.5"/>
<line x1="239.6" y1="15.6" x2="241.1" y2="15.6" stroke="#555" stroke-width="0.5"/>
<text x="242.7" y="17.5" font-size="5.3" fill="#1a1a1a" textLength="12.4" lengthAdjust="spacingAndGlyphs">1000</text>
<line x1="239.6" y1="40.0" x2="241.1" y2="40.0" stroke="#555" stroke-width="0.5"/>
<text x="242.7" y="41.9" font-size="5.3" fill="#1a1a1a" textLength="9.3" lengthAdjust="spacingAndGlyphs">500</text>
<line x1="239.6" y1="64.5" x2="241.1" y2="64.5" stroke="#555" stroke-width="0.5"/>
<text x="242.7" y="66.4" font-size="5.3" fill="#1a1a1a" textLength="3.1" lengthAdjust="spacingAndGlyphs">0</text>
<line x1="239.6" y1="89.0" x2="241.1" y2="89.0" stroke="#555" stroke-width="0.5"/>
<text x="242.7" y="90.9" font-size="5.3" fill="#1a1a1a" textLength="13.4" lengthAdjust="spacingAndGlyphs">−500</text>
<line x1="239.6" y1="113.5" x2="241.1" y2="113.5" stroke="#555" stroke-width="0.5"/>
<text x="242.7" y="115.4" font-size="5.3" fill="#1a1a1a" textLength="16.5" lengthAdjust="spacingAndGlyphs">−1000</text>
<line x1="239.6" y1="137.9" x2="241.1" y2="137.9" stroke="#555" stroke-width="0.5"/>
<text x="242.7" y="139.8" font-size="5.3" fill="#1a1a1a" textLength="16.5" lengthAdjust="spacingAndGlyphs">−1500</text>
<text transform="translate(267.3,76.4) rotate(-90)" font-size="6.1" text-anchor="middle" fill="#1a1a1a" stroke="#1a1a1a" stroke-width="0.12" textLength="50.5" lengthAdjust="spacingAndGlyphs">Residuals(Kg/ha)</text>
</g><g transform="translate(278.7,180.3)">
<circle cx="39.7" cy="102.2" r="1.7" fill="#481a6c" fill-opacity="0.6"/>
<circle cx="58.0" cy="110.2" r="1.7" fill="#355f8d" fill-opacity="0.6"/>
<circle cx="65.7" cy="106.7" r="1.7" fill="#32658d" fill-opacity="0.6"/>
<circle cx="70.4" cy="104.5" r="1.7" fill="#30688e" fill-opacity="0.6"/>
<circle cx="64.8" cy="111.9" r="1.7" fill="#2d708e" fill-opacity="0.6"/>
<circle cx="69.5" cy="111.3" r="1.7" fill="#2a788e" fill-opacity="0.6"/>
<circle cx="75.3" cy="107.5" r="1.7" fill="#29798e" fill-opacity="0.6"/>
<circle cx="72.6" cy="117.9" r="1.7" fill="#228f8d" fill-opacity="0.6"/>
<circle cx="36.1" cy="125.2" r="1.7" fill="#375b8d" fill-opacity="0.6"/>
<circle cx="34.7" cy="130.6" r="1.7" fill="#31678d" fill-opacity="0.6"/>
<circle cx="69.9" cy="73.3" r="1.7" fill="#440154" fill-opacity="0.6"/>
<circle cx="69.9" cy="79.1" r="1.7" fill="#48186a" fill-opacity="0.6"/>
<circle cx="69.0" cy="82.0" r="1.7" fill="#482071" fill-opacity="0.6"/>
<circle cx="58.3" cy="81.3" r="1.7" fill="#440154" fill-opacity="0.6"/>
<circle cx="82.7" cy="83.6" r="1.7" fill="#3f4688" fill-opacity="0.6"/>
<circle cx="89.3" cy="62.2" r="1.7" fill="#470e61" fill-opacity="0.6"/>
<circle cx="98.5" cy="61.4" r="1.7" fill="#482575" fill-opacity="0.6"/>
<circle cx="87.3" cy="68.3" r="1.7" fill="#481f71" fill-opacity="0.6"/>
<circle cx="110.4" cy="67.5" r="1.7" fill="#3a548b" fill-opacity="0.6"/>
<circle cx="107.9" cy="73.2" r="1.7" fill="#355f8d" fill-opacity="0.6"/>
<circle cx="119.6" cy="69.7" r="1.7" fill="#2e6d8e" fill-opacity="0.6"/>
<circle cx="121.5" cy="60.0" r="1.7" fill="#39568c" fill-opacity="0.6"/>
<circle cx="124.4" cy="63.1" r="1.7" fill="#32658d" fill-opacity="0.6"/>
<circle cx="103.6" cy="85.1" r="1.7" fill="#2b758e" fill-opacity="0.6"/>
<circle cx="119.8" cy="91.0" r="1.7" fill="#20a387" fill-opacity="0.6"/>
<circle cx="125.1" cy="100.1" r="1.7" fill="#4cc26c" fill-opacity="0.6"/>
<circle cx="103.3" cy="110.5" r="1.7" fill="#31b57b" fill-opacity="0.6"/>
<circle cx="83.5" cy="105.3" r="1.7" fill="#25838e" fill-opacity="0.6"/>
<circle cx="87.3" cy="103.6" r="1.7" fill="#24868e" fill-opacity="0.6"/>
<circle cx="80.7" cy="109.1" r="1.7" fill="#24878e" fill-opacity="0.6"/>
<circle cx="84.6" cy="115.7" r="1.7" fill="#1fa088" fill-opacity="0.6"/>
<circle cx="84.6" cy="119.0" r="1.7" fill="#22a785" fill-opacity="0.6"/>
<circle cx="84.6" cy="121.2" r="1.7" fill="#27ad81" fill-opacity="0.6"/>
<circle cx="79.6" cy="118.8" r="1.7" fill="#1f9e89" fill-opacity="0.6"/>
<circle cx="92.8" cy="117.9" r="1.7" fill="#30b47b" fill-opacity="0.6"/>
<circle cx="155.2" cy="34.7" r="1.7" fill="#3a558c" fill-opacity="0.6"/>
<circle cx="148.2" cy="45.3" r="1.7" fill="#32648d" fill-opacity="0.6"/>
<circle cx="152.5" cy="43.4" r="1.7" fill="#31688e" fill-opacity="0.6"/>
<circle cx="132.2" cy="52.7" r="1.7" fill="#38588c" fill-opacity="0.6"/>
<circle cx="131.9" cy="59.1" r="1.7" fill="#30698e" fill-opacity="0.6"/>
<circle cx="132.0" cy="64.0" r="1.7" fill="#2b758e" fill-opacity="0.6"/>
<circle cx="154.5" cy="57.8" r="1.7" fill="#21918c" fill-opacity="0.6"/>
<circle cx="160.6" cy="59.9" r="1.7" fill="#20a187" fill-opacity="0.6"/>
<circle cx="129.6" cy="67.6" r="1.7" fill="#297a8e" fill-opacity="0.6"/>
<circle cx="132.0" cy="69.6" r="1.7" fill="#25848e" fill-opacity="0.6"/>
<circle cx="127.9" cy="72.5" r="1.7" fill="#25848e" fill-opacity="0.6"/>
<circle cx="142.6" cy="70.0" r="1.7" fill="#1f998b" fill-opacity="0.6"/>
<circle cx="146.9" cy="71.7" r="1.7" fill="#21a586" fill-opacity="0.6"/>
<circle cx="142.4" cy="75.4" r="1.7" fill="#22a685" fill-opacity="0.6"/>
<circle cx="129.6" cy="92.7" r="1.7" fill="#38b977" fill-opacity="0.6"/>
<circle cx="164.1" cy="34.9" r="1.7" fill="#30688e" fill-opacity="0.6"/>
<circle cx="172.6" cy="32.7" r="1.7" fill="#2c728e" fill-opacity="0.6"/>
<circle cx="181.1" cy="32.5" r="1.7" fill="#26838e" fill-opacity="0.6"/>
<circle cx="186.0" cy="31.6" r="1.7" fill="#23898e" fill-opacity="0.6"/>
<circle cx="183.9" cy="36.0" r="1.7" fill="#21918c" fill-opacity="0.6"/>
<circle cx="172.4" cy="37.0" r="1.7" fill="#287d8e" fill-opacity="0.6"/>
<circle cx="170.7" cy="39.5" r="1.7" fill="#26818e" fill-opacity="0.6"/>
<circle cx="172.4" cy="41.6" r="1.7" fill="#23898e" fill-opacity="0.6"/>
<circle cx="178.6" cy="39.9" r="1.7" fill="#21918c" fill-opacity="0.6"/>
<circle cx="179.8" cy="42.4" r="1.7" fill="#1f998b" fill-opacity="0.6"/>
<circle cx="183.1" cy="41.1" r="1.7" fill="#1f9c8a" fill-opacity="0.6"/>
<circle cx="186.0" cy="39.1" r="1.7" fill="#1f9c89" fill-opacity="0.6"/>
<circle cx="187.3" cy="38.3" r="1.7" fill="#1f9d89" fill-opacity="0.6"/>
<circle cx="203.4" cy="28.7" r="1.7" fill="#20a387" fill-opacity="0.6"/>
<circle cx="196.2" cy="31.2" r="1.7" fill="#1f9b8a" fill-opacity="0.6"/>
<circle cx="196.6" cy="33.7" r="1.7" fill="#20a387" fill-opacity="0.6"/>
<circle cx="200.3" cy="33.9" r="1.7" fill="#24aa83" fill-opacity="0.6"/>
<circle cx="192.0" cy="38.3" r="1.7" fill="#21a586" fill-opacity="0.6"/>
<circle cx="198.3" cy="39.1" r="1.7" fill="#2eb37c" fill-opacity="0.6"/>
<circle cx="203.6" cy="41.1" r="1.7" fill="#48c06e" fill-opacity="0.6"/>
<circle cx="211.5" cy="37.0" r="1.7" fill="#51c469" fill-opacity="0.6"/>
<circle cx="193.7" cy="42.0" r="1.7" fill="#2cb27d" fill-opacity="0.6"/>
<circle cx="165.8" cy="46.7" r="1.7" fill="#23898e" fill-opacity="0.6"/>
<circle cx="169.2" cy="47.8" r="1.7" fill="#20938c" fill-opacity="0.6"/>
<circle cx="191.1" cy="45.9" r="1.7" fill="#33b779" fill-opacity="0.6"/>
<circle cx="199.7" cy="45.9" r="1.7" fill="#52c569" fill-opacity="0.6"/>
<circle cx="165.8" cy="54.2" r="1.7" fill="#1f9d89" fill-opacity="0.6"/>
<circle cx="170.8" cy="52.8" r="1.7" fill="#20a287" fill-opacity="0.6"/>
<circle cx="184.4" cy="54.2" r="1.7" fill="#42be71" fill-opacity="0.6"/>
<circle cx="185.7" cy="55.8" r="1.7" fill="#4fc46a" fill-opacity="0.6"/>
<circle cx="164.2" cy="61.8" r="1.7" fill="#26ac81" fill-opacity="0.6"/>
<circle cx="170.8" cy="59.7" r="1.7" fill="#2fb37c" fill-opacity="0.6"/>
<circle cx="169.2" cy="63.7" r="1.7" fill="#3aba76" fill-opacity="0.6"/>
<circle cx="184.9" cy="60.8" r="1.7" fill="#68cc5c" fill-opacity="0.6"/>
<circle cx="191.5" cy="61.0" r="1.7" fill="#8ad547" fill-opacity="0.6"/>
<circle cx="184.9" cy="64.5" r="1.7" fill="#80d34d" fill-opacity="0.6"/>
<circle cx="186.9" cy="66.0" r="1.7" fill="#94d740" fill-opacity="0.6"/>
<circle cx="185.3" cy="67.0" r="1.7" fill="#93d741" fill-opacity="0.6"/>
<circle cx="200.6" cy="55.0" r="1.7" fill="#8fd644" fill-opacity="0.6"/>
<circle cx="184.6" cy="70.4" r="1.7" fill="#a7db34" fill-opacity="0.6"/>
<circle cx="197.8" cy="74.1" r="1.7" fill="#fde725" fill-opacity="0.6"/>
<circle cx="202.1" cy="44.7" r="1.7" fill="#55c667" fill-opacity="0.6"/>
<circle cx="185.1" cy="55.2" r="1.7" fill="#4ac16d" fill-opacity="0.6"/>
<line x1="34.6" y1="117.5" x2="211.3" y2="34.0" stroke="#dc4f4f" stroke-width="1.1"/>
<line x1="34.4" y1="141.7" x2="211.5" y2="10.0" stroke="#2e2e2e" stroke-width="1.15" stroke-dasharray="3.3 1.45"/>
<rect x="25.75" y="3.65" width="194.4" height="144.5" fill="none" stroke="#b0b0b0" stroke-width="1.1"/>
<line x1="59.5" y1="148.2" x2="59.5" y2="149.7" stroke="#555" stroke-width="0.5"/>
<text x="59.5" y="154.7" font-size="4.7" text-anchor="middle" fill="#1a1a1a" textLength="10.7" lengthAdjust="spacingAndGlyphs">4000</text>
<line x1="95.4" y1="148.2" x2="95.4" y2="149.7" stroke="#555" stroke-width="0.5"/>
<text x="95.4" y="154.7" font-size="4.7" text-anchor="middle" fill="#1a1a1a" textLength="10.7" lengthAdjust="spacingAndGlyphs">5000</text>
<line x1="131.3" y1="148.2" x2="131.3" y2="149.7" stroke="#555" stroke-width="0.5"/>
<text x="131.3" y="154.7" font-size="4.7" text-anchor="middle" fill="#1a1a1a" textLength="10.7" lengthAdjust="spacingAndGlyphs">6000</text>
<line x1="167.2" y1="148.2" x2="167.2" y2="149.7" stroke="#555" stroke-width="0.5"/>
<text x="167.2" y="154.7" font-size="4.7" text-anchor="middle" fill="#1a1a1a" textLength="10.7" lengthAdjust="spacingAndGlyphs">7000</text>
<line x1="203.1" y1="148.2" x2="203.1" y2="149.7" stroke="#555" stroke-width="0.5"/>
<text x="203.1" y="154.7" font-size="4.7" text-anchor="middle" fill="#1a1a1a" textLength="10.7" lengthAdjust="spacingAndGlyphs">8000</text>
<line x1="24.25" y1="123.0" x2="25.75" y2="123.0" stroke="#555" stroke-width="0.5"/>
<text x="22.7" y="124.7" font-size="4.7" text-anchor="end" fill="#1a1a1a" textLength="10.7" lengthAdjust="spacingAndGlyphs">4000</text>
<line x1="24.25" y1="96.3" x2="25.75" y2="96.3" stroke="#555" stroke-width="0.5"/>
<text x="22.7" y="98.0" font-size="4.7" text-anchor="end" fill="#1a1a1a" textLength="10.7" lengthAdjust="spacingAndGlyphs">5000</text>
<line x1="24.25" y1="69.6" x2="25.75" y2="69.6" stroke="#555" stroke-width="0.5"/>
<text x="22.7" y="71.3" font-size="4.7" text-anchor="end" fill="#1a1a1a" textLength="10.7" lengthAdjust="spacingAndGlyphs">6000</text>
<line x1="24.25" y1="43.0" x2="25.75" y2="43.0" stroke="#555" stroke-width="0.5"/>
<text x="22.7" y="44.7" font-size="4.7" text-anchor="end" fill="#1a1a1a" textLength="10.7" lengthAdjust="spacingAndGlyphs">7000</text>
<line x1="24.25" y1="16.3" x2="25.75" y2="16.3" stroke="#555" stroke-width="0.5"/>
<text x="22.7" y="18.0" font-size="4.7" text-anchor="end" fill="#1a1a1a" textLength="10.7" lengthAdjust="spacingAndGlyphs">8000</text>
<text x="122.7" y="162.9" font-size="6.6" text-anchor="middle" fill="#1a1a1a" stroke="#1a1a1a" stroke-width="0.12" textLength="72" lengthAdjust="spacingAndGlyphs">Observed Values(Kg/ha)</text>
<text transform="translate(8.9,75.6) rotate(-90)" font-size="6.6" text-anchor="middle" fill="#1a1a1a" stroke="#1a1a1a" stroke-width="0.12" textLength="71" lengthAdjust="spacingAndGlyphs">Predicted Values(Kg/ha)</text>
<rect x="28.3" y="6.5" width="93.5" height="28.1" rx="1.5" fill="#fff" fill-opacity="0.8" stroke="#d8d8d8" stroke-width="0.6"/>
<circle cx="37.3" cy="11.8" r="1.55" fill="#66cfaa"/>
<line x1="30.9" y1="20.5" x2="43.9" y2="20.5" stroke="#dc4f4f" stroke-width="1.1"/>
<line x1="30.9" y1="29.5" x2="43.9" y2="29.5" stroke="#2e2e2e" stroke-width="1.15" stroke-dasharray="3.3 1.45"/>
<text x="48.5" y="13.7" font-size="6.5" fill="#1a1a1a" stroke="#1a1a1a" stroke-width="0.12" textLength="71" lengthAdjust="spacingAndGlyphs">Predicted vs. Observed</text>
<text x="48.5" y="22.7" font-size="6.5" fill="#1a1a1a" stroke="#1a1a1a" stroke-width="0.12" textLength="47.3" lengthAdjust="spacingAndGlyphs">Regression Line</text>
<text x="48.5" y="31.7" font-size="6.5" fill="#1a1a1a" stroke="#1a1a1a" stroke-width="0.12" textLength="68.3" lengthAdjust="spacingAndGlyphs">Perfect Prediction Line</text>
<rect x="232.4" y="3.3" width="7.2" height="144.7" fill="url(#gd)" stroke="#777" stroke-width="0.5"/>
<line x1="239.6" y1="23.2" x2="241.1" y2="23.2" stroke="#555" stroke-width="0.5"/>
<text x="242.7" y="25.1" font-size="5.3" fill="#1a1a1a" textLength="12.4" lengthAdjust="spacingAndGlyphs">1500</text>
<line x1="239.6" y1="43.5" x2="241.1" y2="43.5" stroke="#555" stroke-width="0.5"/>
<text x="242.7" y="45.4" font-size="5.3" fill="#1a1a1a" textLength="12.4" lengthAdjust="spacingAndGlyphs">1000</text>
<line x1="239.6" y1="63.8" x2="241.1" y2="63.8" stroke="#555" stroke-width="0.5"/>
<text x="242.7" y="65.7" font-size="5.3" fill="#1a1a1a" textLength="9.3" lengthAdjust="spacingAndGlyphs">500</text>
<line x1="239.6" y1="84.1" x2="241.1" y2="84.1" stroke="#555" stroke-width="0.5"/>
<text x="242.7" y="86.0" font-size="5.3" fill="#1a1a1a" textLength="3.1" lengthAdjust="spacingAndGlyphs">0</text>
<line x1="239.6" y1="104.4" x2="241.1" y2="104.4" stroke="#555" stroke-width="0.5"/>
<text x="242.7" y="106.3" font-size="5.3" fill="#1a1a1a" textLength="13.4" lengthAdjust="spacingAndGlyphs">−500</text>
<line x1="239.6" y1="124.7" x2="241.1" y2="124.7" stroke="#555" stroke-width="0.5"/>
<text x="242.7" y="126.6" font-size="5.3" fill="#1a1a1a" textLength="16.5" lengthAdjust="spacingAndGlyphs">−1000</text>
<line x1="239.6" y1="145.0" x2="241.1" y2="145.0" stroke="#555" stroke-width="0.5"/>
<text x="242.7" y="146.9" font-size="5.3" fill="#1a1a1a" textLength="16.5" lengthAdjust="spacingAndGlyphs">−1500</text>
<text transform="translate(267.3,76.4) rotate(-90)" font-size="6.1" text-anchor="middle" fill="#1a1a1a" stroke="#1a1a1a" stroke-width="0.12" textLength="50.5" lengthAdjust="spacingAndGlyphs">Residuals(Kg/ha)</text>
</g>
<text transform="translate(89.3,177.7) " font-family="Liberation Serif, serif" font-size="11.3" fill="#111" stroke="#111" stroke-width="0.1" textLength="93.2" lengthAdjust="spacingAndGlyphs">(<tspan font-weight="bold">a</tspan>) Ensemble voting</text>
<text transform="translate(393.4,177.6) " font-family="Liberation Serif, serif" font-size="11.3" fill="#111" stroke="#111" stroke-width="0.1" textLength="43.6" lengthAdjust="spacingAndGlyphs">(<tspan font-weight="bold">b</tspan>) Ridge</text>
<text transform="translate(86.5,358.5) " font-family="Liberation Serif, serif" font-size="11.3" fill="#111" stroke="#111" stroke-width="0.1" textLength="98.8" lengthAdjust="spacingAndGlyphs">(<tspan font-weight="bold">c</tspan>) Gradient boosting</text>
<text transform="translate(372.7,358.4) " font-family="Liberation Serif, serif" font-size="11.3" fill="#111" stroke="#111" stroke-width="0.1" textLength="84.6" lengthAdjust="spacingAndGlyphs">(<tspan font-weight="bold">d</tspan>) Random forest</text>
</svg>
</body></html>
